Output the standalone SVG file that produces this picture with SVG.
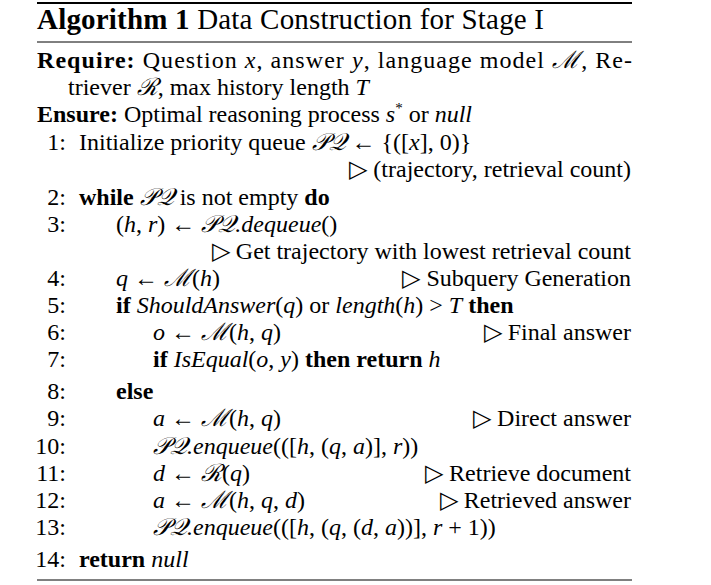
<svg xmlns="http://www.w3.org/2000/svg" width="711" height="585" viewBox="0 0 711 585">
<style>
text{font-family:"Liberation Serif","Times New Roman",serif;font-size:24px;fill:#000}
.b{font-weight:bold}.i{font-style:italic}.n{text-anchor:end}.r{text-anchor:end}
</style>
<rect width="711" height="585" fill="#fff"/>
<line x1="37" y1="3" x2="632" y2="3" stroke="#000" stroke-width="2"/>
<line x1="37" y1="42" x2="632" y2="42" stroke="#000" stroke-width="1"/>
<line x1="37" y1="580" x2="632" y2="580" stroke="#000" stroke-width="1"/>
<text x="37" y="29" style="font-size:29px" textLength="507"><tspan class="b">Algorithm 1</tspan> Data Construction for Stage I</text>
<text x="37" y="68" textLength="595"><tspan class="b">Require:</tspan> Question <tspan class="i">x</tspan>, answer <tspan class="i">y</tspan>, language model <tspan class="i">ℳ</tspan>, Re-</text>
<text x="68" y="95"><tspan>triever </tspan><tspan class="i">ℛ</tspan>, max history length <tspan class="i">T</tspan></text>
<text x="37" y="122"><tspan class="b">Ensure:</tspan> Optimal reasoning process <tspan class="i">s</tspan><tspan dy="-9" style="font-size:15px">*</tspan><tspan dy="9"> or </tspan><tspan class="i">null</tspan></text>
<g class="lines">
<text class="n" x="66" y="150">1:</text><text x="79" y="150">Initialize priority queue <tspan class="i">𝒫𝒬</tspan> ← {([<tspan class="i">x</tspan>], 0)}</text>
<text class="r" x="631" y="177">▷ (trajectory, retrieval count)</text>
<text class="n" x="66" y="205">2:</text><text x="79" y="205"><tspan class="b">while</tspan> <tspan class="i">𝒫𝒬</tspan> is not empty <tspan class="b">do</tspan></text>
<text class="n" x="66" y="232">3:</text><text x="116" y="232">(<tspan class="i">h</tspan>, <tspan class="i">r</tspan>) ← <tspan class="i">𝒫𝒬.dequeue</tspan>()</text>
<text class="r" x="631" y="259">▷ Get trajectory with lowest retrieval count</text>
<text class="n" x="66" y="286">4:</text><text x="116" y="286"><tspan class="i">q</tspan> ← <tspan class="i">ℳ</tspan>(<tspan class="i">h</tspan>)</text>
<text class="r" x="631" y="286">▷ Subquery Generation</text>
<text class="n" x="66" y="313">5:</text><text x="116" y="313"><tspan class="b">if</tspan> <tspan class="i">ShouldAnswer</tspan>(<tspan class="i">q</tspan>) or <tspan class="i">length</tspan>(<tspan class="i">h</tspan>) &gt; <tspan class="i">T</tspan> <tspan class="b">then</tspan></text>
<text class="n" x="66" y="340">6:</text><text x="153" y="340"><tspan class="i">o</tspan> ← <tspan class="i">ℳ</tspan>(<tspan class="i">h</tspan>, <tspan class="i">q</tspan>)</text>
<text class="r" x="631" y="340">▷ Final answer</text>
<text class="n" x="66" y="367">7:</text><text x="153" y="367"><tspan class="b">if</tspan> <tspan class="i">IsEqual</tspan>(<tspan class="i">o</tspan>, <tspan class="i">y</tspan>) <tspan class="b">then return</tspan> <tspan class="i">h</tspan></text>
<text class="n" x="66" y="399">8:</text><text x="116" y="399" class="b">else</text>
<text class="n" x="66" y="426">9:</text><text x="153" y="426"><tspan class="i">a</tspan> ← <tspan class="i">ℳ</tspan>(<tspan class="i">h</tspan>, <tspan class="i">q</tspan>)</text>
<text class="r" x="631" y="426">▷ Direct answer</text>
<text class="n" x="66" y="454">10:</text><text x="153" y="454"><tspan class="i">𝒫𝒬.enqueue</tspan>(([<tspan class="i">h</tspan>, (<tspan class="i">q</tspan>, <tspan class="i">a</tspan>)], <tspan class="i">r</tspan>))</text>
<text class="n" x="66" y="481">11:</text><text x="153" y="481"><tspan class="i">d</tspan> ← <tspan class="i">ℛ</tspan>(<tspan class="i">q</tspan>)</text>
<text class="r" x="631" y="481">▷ Retrieve document</text>
<text class="n" x="66" y="508">12:</text><text x="153" y="508"><tspan class="i">a</tspan> ← <tspan class="i">ℳ</tspan>(<tspan class="i">h</tspan>, <tspan class="i">q</tspan>, <tspan class="i">d</tspan>)</text>
<text class="r" x="631" y="508">▷ Retrieved answer</text>
<text class="n" x="66" y="535">13:</text><text x="153" y="535"><tspan class="i">𝒫𝒬.enqueue</tspan>(([<tspan class="i">h</tspan>, (<tspan class="i">q</tspan>, (<tspan class="i">d</tspan>, <tspan class="i">a</tspan>))], <tspan class="i">r</tspan> + 1))</text>
<text class="n" x="66" y="567">14:</text><text x="79" y="567"><tspan class="b">return</tspan> <tspan class="i">null</tspan></text>
</g>
</svg>
